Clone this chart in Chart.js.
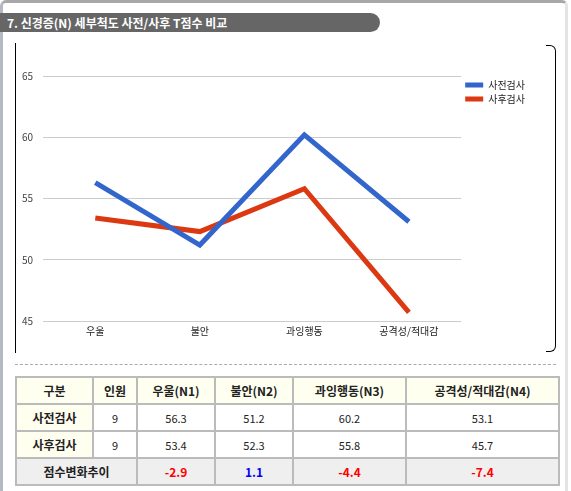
<!DOCTYPE html>
<html>
<head>
<meta charset="utf-8">
<script src="https://cdn.jsdelivr.net/npm/chart.js@4"></script>
<style>
  body { margin: 0; background: #fff; font-family: "Noto Sans CJK KR", sans-serif; }
  #page { position: absolute; left: 0; top: 0; width: 568px; height: 491px; border-left: 3px solid #b4b8c2; border-top: 3px solid #a8a8a8; border-right: 3px solid #e4e4e4; border-radius: 6px 6px 0 0; box-sizing: border-box; }
  #title { position: absolute; left: 0; top: 13px; width: 380px; height: 19px; background: #666; color: #fff; font-weight: bold; font-size: 12px; line-height: 19px; padding-left: 7px; box-sizing: border-box; border-radius: 0 10px 10px 0; }
  #leftline { position: absolute; left: 15px; top: 43px; width: 1px; height: 310px; background: #000; }
  #bracket { position: absolute; left: 546px; top: 45px; width: 9px; height: 305px; border: 1.5px solid #000; border-left: none; border-radius: 0 6px 6px 0; }
  #chartbox { position: absolute; left: 16px; top: 44px; width: 519px; height: 306px; }
  #dash { position: absolute; left: 15px; top: 364px; width: 541px; border-top: 1px dashed #aaa; }
  table { position: absolute; left: 15px; top: 376px; border-collapse: separate; border-spacing: 0; border: 1px solid #bbb; font-size: 11px; color: #222; }
  td { border: 1px solid #bbb; height: 25px; padding: 0; text-align: center; }
  .hd { background: #fffff0; font-weight: bold; font-size: 12px; }
  .ft { background: #efefef; font-weight: bold; font-size: 12px; }
  .neg { color: #ff0000; font-weight: bold; font-size: 12px; }
  .pos { color: #0000ff; font-weight: bold; font-size: 12px; }
</style>
</head>
<body>
<div id="page"></div>
<div id="title">7. 신경증(N) 세부척도 사전/사후 T점수 비교</div>
<div id="leftline"></div>
<div id="bracket"></div>
<div id="chartbox"><canvas id="c"></canvas></div>
<div id="dash"></div>
<table id="tbl"></table>
<script>
const categories = ['우울', '불안', '과잉행동', '공격성/적대감'];
const headers = ['우울(N1)', '불안(N2)', '과잉행동(N3)', '공격성/적대감(N4)'];
const seriesNames = ['사전검사', '사후검사'];
const preScores = [56.3, 51.2, 60.2, 53.1];
const postScores = [53.4, 52.3, 55.8, 45.7];
const counts = [9, 9];
const yTicks = [45, 50, 55, 60, 65];

// 표 만들기
const colW = [75, 42, 76, 76, 111, 151];
let html = '<tr><td class="hd" style="width:' + colW[0] + 'px">구분</td><td class="hd" style="width:' + colW[1] + 'px">인원</td>';
headers.forEach((h, i) => { html += '<td class="hd" style="width:' + colW[i + 2] + 'px">' + h + '</td>'; });
html += '</tr>';
[preScores, postScores].forEach((row, r) => {
    html += '<tr><td class="hd">' + seriesNames[r] + '</td><td>' + counts[r] + '</td>';
    row.forEach(v => { html += '<td>' + v.toFixed(1) + '</td>'; });
    html += '</tr>';
});
html += '<tr><td class="ft" colspan="2">점수변화추이</td>';
postScores.forEach((v, i) => {
    const d = v - preScores[i];
    html += '<td class="ft"><span class="' + (d < 0 ? 'neg' : 'pos') + '">' + d.toFixed(1) + '</span></td>';
});
html += '</tr>';
document.getElementById('tbl').innerHTML = html;

// 그래프
const ctx = document.getElementById('c').getContext('2d');
new Chart(ctx, {
    type: 'line',
    data: {
        labels: categories,
        datasets: [
            { label: seriesNames[0], data: preScores, borderColor: '#3366cc', backgroundColor: '#3366cc', borderWidth: 5, pointRadius: 0, tension: 0 },
            { label: seriesNames[1], data: postScores, borderColor: '#dc3912', backgroundColor: '#dc3912', borderWidth: 5, pointRadius: 0, tension: 0 }
        ]
    },
    options: {
        responsive: true,
        maintainAspectRatio: false,
        animation: false,
        layout: { padding: { top: 32, right: 0, bottom: 0, left: 0 } },
        plugins: {
            tooltip: { enabled: false },
            legend: {
                position: 'right',
                align: 'start',
                labels: {
                    boxWidth: 18, boxHeight: 5, padding: 4,
                    color: '#222',
                    font: { family: 'Noto Sans CJK KR', size: 10 },
                    generateLabels: chart => Chart.defaults.plugins.legend.labels.generateLabels(chart).map(l => ({ ...l, lineWidth: 0 }))
                }
            }
        },
        scales: {
            x: {
                offset: true,
                grid: { display: false, drawTicks: false },
                border: { display: false },
                ticks: { color: '#222', padding: 4, maxRotation: 0, font: { family: 'Noto Sans CJK KR', size: 10 } },
                afterFit: s => { s.height = 29; }
            },
            y: {
                min: 45, max: 65,
                afterBuildTicks: s => { s.ticks = yTicks.map(v => ({ value: v })); },
                grid: { color: '#cccccc', drawTicks: false },
                border: { display: false },
                ticks: { color: '#444', padding: 10, font: { family: 'Noto Sans CJK KR', size: 10 } },
                afterFit: s => { s.width = 27; }
            }
        }
    }
});
</script>
</body>
</html>
